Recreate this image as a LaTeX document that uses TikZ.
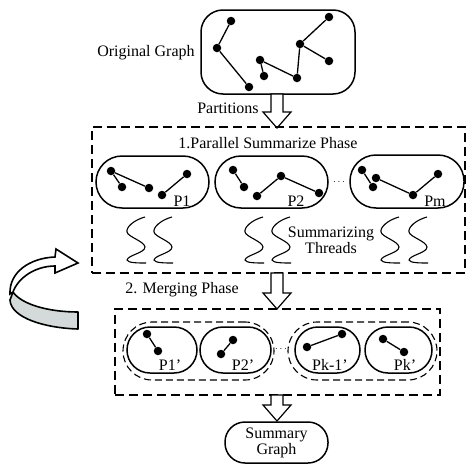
\documentclass[tikz,border=0pt]{standalone}
\usepackage{fontspec}
\setmainfont{Liberation Serif}
\usetikzlibrary{calc}
\tikzset{
  lbl/.style={font=\fontsize{16}{16}\selectfont, inner sep=0pt},
  dotnode/.style={circle, fill=black, inner sep=0pt, minimum size=8.5pt},
  edge/.style={line width=1.3pt},
  pill/.style={draw, line width=1.5pt, rounded corners=#1, inner sep=0pt},
  dbox/.style={draw, line width=1.5pt, dash pattern=on 9pt off 5pt, inner sep=0pt},
  gbox/.style={draw, line width=1.1pt, dash pattern=on 7pt off 4pt, rounded corners=29pt, inner sep=0pt},
  blk/.style={draw, fill=white, line width=1.2pt, line join=miter},
  thr/.style={line width=1.1pt},
  pics/darrow/.style={code={
    \draw[blk] (-6,0) -- (6,0) -- (6,#1-16) -- (14,#1-16) -- (0,#1) -- (-14,#1-16) -- (-6,#1-16) -- cycle;
  }},
  pics/thread/.style={code={
    \draw[thr] (19,0) .. controls (8,3) and (0,10) .. (1,15)
      .. controls (2,20) and (18,24) .. (19,30)
      .. controls (19,36) and (2,38) .. (1,43)
      .. controls (2,46) and (12,46) .. (20,46);
  }}
}
\begin{document}
\begin{tikzpicture}[x=1pt,y=-1pt]
\useasboundingbox (0,0) rectangle (474,474);

% ---------- Original graph ----------
\node[pill=22pt, minimum width=154pt, minimum height=84pt] (og) at (278,52) {};
\node[lbl] (ogl) at (146,53) {Original Graph};
\node[dotnode] (o1) at (231,21) {};
\node[dotnode] (o2) at (217,48) {};
\node[dotnode] (o3) at (249,87) {};
\node[dotnode] (o4) at (260,60) {};
\node[dotnode] (o5) at (264,76) {};
\node[dotnode] (o6) at (297,78) {};
\node[dotnode] (o7) at (300,44) {};
\node[dotnode] (o8) at (329,17) {};
\node[dotnode] (o9) at (329,61) {};
\draw[edge] (o1) -- (o2) -- (o3);
\draw[edge] (o5) -- (o4) -- (o6) -- (o7) -- (o8);
\draw[edge] (o7) -- (o9);

% Partitions arrow
\pic at (277,94) {darrow=34};
\node[lbl] (part) at (228,108) {Partitions};

% ---------- Phase 1 ----------
\node[dbox, minimum width=373pt, minimum height=146pt] (b1) at (278.5,200) {};
\node[lbl] (ph1) at (268,143) {1.Parallel Summarize Phase};

\node[pill=26pt, minimum width=113pt, minimum height=52pt] (p1) at (152.5,182) {};
\node[pill=26pt, minimum width=113pt, minimum height=52pt] (p2) at (271.5,182) {};
\node[pill=26pt, minimum width=114pt, minimum height=53pt] (pm) at (407,181.5) {};
\node[inner sep=0pt, font=\bfseries] (dots1) at (339,182) {$\cdots$};

\node[dotnode] (a1) at (111,171) {};
\node[dotnode] (a2) at (122,187) {};
\node[dotnode] (a3) at (149,188) {};
\node[dotnode] (a4) at (162,195) {};
\node[dotnode] (a5) at (187,174) {};
\draw[edge] (a2) -- (a1) -- (a3);
\draw[edge] (a4) -- (a5);
\node[lbl] (l1) at (182,201) {P1};

\node[dotnode] (c1) at (233,170) {};
\node[dotnode] (c2) at (244,187) {};
\node[dotnode] (c3) at (257,196) {};
\node[dotnode] (c4) at (281,176) {};
\node[dotnode] (c5) at (319,193) {};
\draw[edge] (c1) -- (c2);
\draw[edge] (c3) -- (c4) -- (c5);
\node[lbl] (l2) at (296,201) {P2};

\node[dotnode] (m1) at (362,170) {};
\node[dotnode] (m2) at (373,187) {};
\node[dotnode] (m3) at (376,178) {};
\node[dotnode] (m4) at (413,195) {};
\node[dotnode] (m5) at (438,174) {};
\draw[edge] (m1) -- (m2);
\draw[edge] (m3) -- (m4) -- (m5);
\node[lbl] (lm) at (435,201) {Pm};

% threads
\pic at (126,217) {thread};
\pic at (153,217) {thread};
\pic at (244,217) {thread};
\pic at (271,217) {thread};
\pic at (380,217) {thread};
\pic at (408,217) {thread};
\node[lbl, align=center] (thl) at (331,240) {Summarizing\\Threads};

% arrow to phase 2
\pic at (277,273) {darrow=36};

% ---------- Phase 2 ----------
\node[lbl] (ph2) at (182,290) {2. Merging Phase};
\node[dbox, minimum width=325pt, minimum height=86pt] (b2) at (277.5,352) {};

\node[gbox, minimum width=151pt, minimum height=58pt] (g1) at (198.5,351) {};
\node[gbox, minimum width=149pt, minimum height=58pt] (g2) at (362.5,351) {};

\node[pill=23pt, minimum width=70pt, minimum height=46pt] (q1) at (162,350) {};
\node[pill=23pt, minimum width=71pt, minimum height=46pt] (q2) at (235.5,350) {};
\node[pill=23pt, minimum width=65pt, minimum height=46pt] (q3) at (327.5,350) {};
\node[pill=23pt, minimum width=67pt, minimum height=46pt] (q4) at (398.5,350) {};
\node[inner sep=0pt] (dots2) at (281,349) {$\cdots$};

\node[dotnode] (r1) at (147,334) {};
\node[dotnode] (r2) at (158,351) {};
\draw[edge] (r1) -- (r2);
\node[lbl] (k1) at (170,365) {P1’};

\node[dotnode] (s1) at (233,340) {};
\node[dotnode] (s2) at (221,354) {};
\draw[edge] (s1) -- (s2);
\node[lbl] (k2) at (243,365) {P2’};

\node[dotnode] (t1) at (307,347) {};
\node[dotnode] (t2) at (342,334) {};
\draw[edge] (t1) -- (t2);
\node[lbl] (k3) at (330,365) {Pk-1’};

\node[dotnode] (u1) at (383,339) {};
\node[dotnode] (u2) at (404,352) {};
\draw[edge] (u1) -- (u2);
\node[lbl] (k4) at (405,365) {Pk’};

% arrow to summary
\pic at (277,395) {darrow=26};

% ---------- Summary ----------
\node[pill=20pt, minimum width=103pt, minimum height=41pt] (sg) at (276.5,442.5) {};
\node[lbl, align=center] (sgl) at (276.5,442.5) {Summary\\Graph};

% ---------- Curved loop arrow ----------
\definecolor{bandgray}{RGB}{212,218,218}
\draw[line width=1.6pt, fill=bandgray, line join=round]
  (13,292) .. controls (22,305) and (50,312) .. (78,312) -- (78,329)
  .. controls (45,328) and (11,318) .. (10,300) -- cycle;
\draw[line width=1.6pt, fill=white, line join=miter]
  (10,294) .. controls (9,272) and (30,258) .. (55,257) -- (56,249) -- (78,263)
  -- (55,273) -- (55,266) .. controls (35,266) and (18,278) .. (13,292) -- cycle;
\end{tikzpicture}
\end{document}
